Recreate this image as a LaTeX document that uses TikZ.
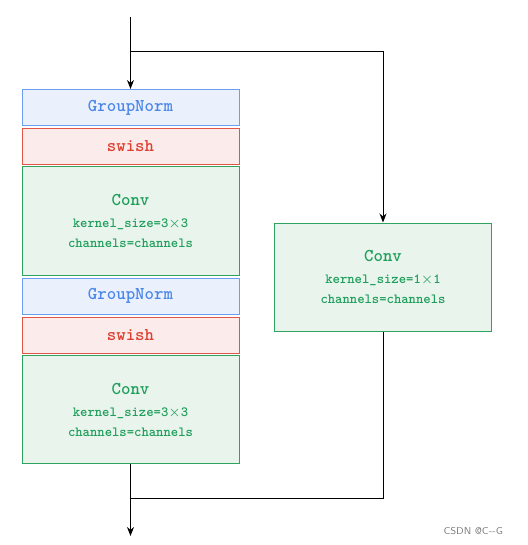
\documentclass[tikz,border=0pt]{standalone}
\usetikzlibrary{arrows.meta}
\definecolor{bluetxt}{HTML}{4A86E8}
\definecolor{bluefill}{HTML}{EAF1FD}
\definecolor{blueline}{HTML}{6C9EF0}
\definecolor{redtxt}{HTML}{DC4030}
\definecolor{redfill}{HTML}{FCEBEB}
\definecolor{redline}{HTML}{E05545}
\definecolor{greentxt}{HTML}{1E9E5A}
\definecolor{greenfill}{HTML}{E8F4EC}
\definecolor{greenline}{HTML}{2EA35F}
\newcommand\smtxt{\fontsize{7}{10}\selectfont}
\begin{document}
\begin{tikzpicture}[x=0.5pt,y=-0.5pt,
  box/.style={line width=0.5pt,inner sep=0pt,font=\fontsize{9}{10}\selectfont\ttfamily\bfseries,align=center},
  gn/.style={box,draw=blueline,fill=bluefill,text=bluetxt,minimum width=108.5pt,minimum height=18pt},
  sw/.style={box,draw=redline,fill=redfill,text=redtxt,minimum width=108.5pt,minimum height=18pt},
  cv/.style={box,draw=greenline,fill=greenfill,text=greentxt,minimum width=108.5pt,minimum height=54pt},
  conn/.style={line width=0.5pt,draw=black},
  arr/.style={conn,-{Stealth[length=4.5pt,width=3.5pt]}}]
\useasboundingbox (0,0) rectangle (528,545);
\node[gn] (g1) at (130.5,107.5) {GroupNorm};
\node[sw] (s1) at (130.5,146.5) {swish};
\node[cv] (c1) at (130.5,221) {Conv\\[1pt]{\smtxt kernel\_size=3$\times$3}\\{\smtxt channels=channels}};
\node[gn] (g2) at (130.5,296) {GroupNorm};
\node[sw] (s2) at (130.5,335) {swish};
\node[cv] (c2) at (130.5,409.5) {Conv\\[1pt]{\smtxt kernel\_size=3$\times$3}\\{\smtxt channels=channels}};
\node[cv] (c3) at (383,277) {Conv\\[1pt]{\smtxt kernel\_size=1$\times$1}\\{\smtxt channels=channels}};
\coordinate (top) at (130.5,17);
\coordinate (split) at (130.5,52);
\coordinate (corner1) at (383,52);
\coordinate (join) at (130.5,498);
\coordinate (corner2) at (383,498);
\coordinate (out) at (130.5,536);
\draw[arr] (top) -- (g1.north);
\draw[arr] (split) -- (corner1) -- (c3.north);
\draw[conn] (c3.south) -- (corner2) -- (join);
\draw[arr] (c2.south) -- (out);
\node[font=\fontsize{5}{6}\selectfont\sffamily,text=gray,anchor=east] (wm) at (510,531) {CSDN @C{-}{-}G};
\end{tikzpicture}
\end{document}
